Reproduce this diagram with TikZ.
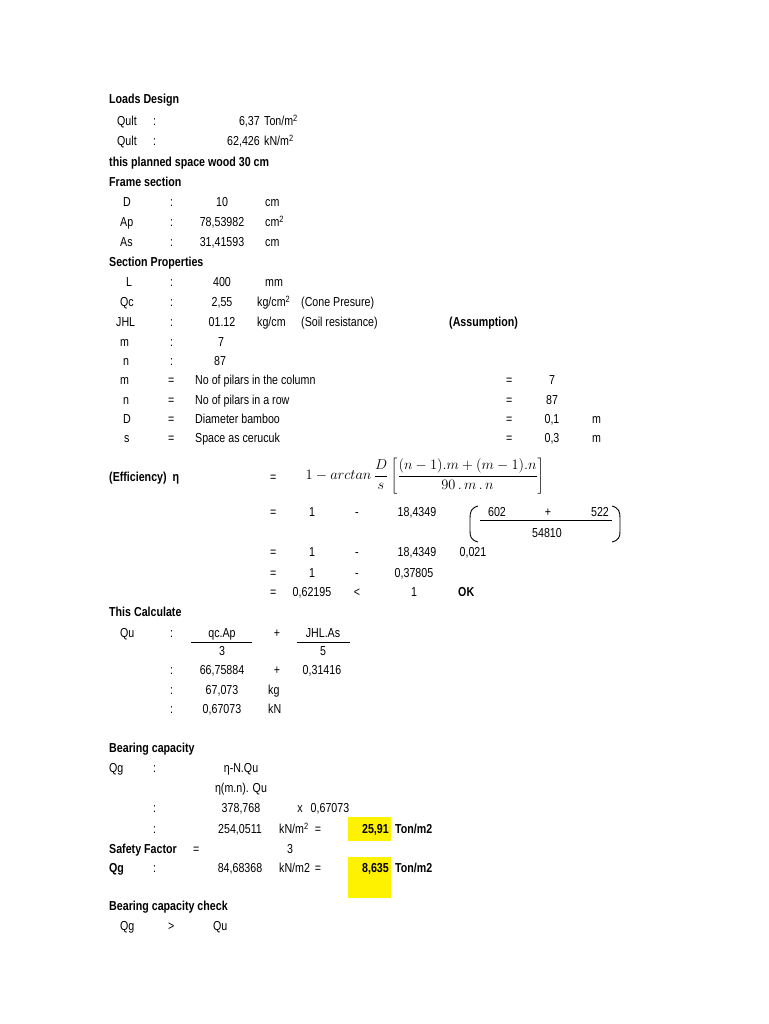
\documentclass[tikz,border=0pt]{standalone}
\usepackage{fontspec}
\setmainfont{Liberation Sans}[FakeStretch=0.82]
\begin{document}
\begin{tikzpicture}[x=1pt,y=-1pt,every node/.style={inner sep=0pt,text height=9pt,text depth=0pt,font=\fontsize{13}{15}\selectfont},
L/.style={anchor=west},C/.style={anchor=center},R/.style={anchor=east},B/.style={anchor=west,font=\fontsize{13}{15}\selectfont\bfseries}]
\useasboundingbox (0,0) rectangle (768,1024);
\fill[white] (0,0) rectangle (768,1024);
\fill[yellow] (348,817) rectangle (391,841);
\fill[yellow] (348,857) rectangle (391,898);
\node[B] (t1) at (109,99) {Loads Design};
\node[L] at (117,121) {Qult}; \node[L] at (153,121) {:}; \node[R] at (260,121) {6,37}; \node[L] at (264,121) {Ton/m\textsuperscript{2}};
\node[L] at (117,141) {Qult}; \node[L] at (153,141) {:}; \node[R] at (260,141) {62,426}; \node[L] at (264,141) {kN/m\textsuperscript{2}};
\node[B] at (109,162) {this planned space wood 30 cm};
\node[B] at (109,182) {Frame section};
\node[L] at (123,202) {D}; \node[L] at (170,202) {:}; \node[C] at (222,202) {10}; \node[L] at (265,202) {cm};
\node[L] at (120,222) {Ap}; \node[L] at (170,222) {:}; \node[C] at (222,222) {78,53982}; \node[L] at (265,222) {cm\textsuperscript{2}};
\node[L] at (120,242) {As}; \node[L] at (170,242) {:}; \node[C] at (222,242) {31,41593}; \node[L] at (265,242) {cm};
\node[B] at (109,262) {Section Properties};
\node[L] at (126,282) {L}; \node[L] at (170,282) {:}; \node[C] at (222,282) {400}; \node[L] at (265,282) {mm};
\node[L] at (120,302) {Qc}; \node[L] at (170,302) {:}; \node[C] at (222,302) {2,55}; \node[L] at (257,302) {kg/cm\textsuperscript{2}}; \node[L] at (301,302) {(Cone Presure)};
\node[L] at (116,322) {JHL}; \node[L] at (170,322) {:}; \node[C] at (222,322) {01.12}; \node[L] at (257,322) {kg/cm}; \node[L] at (301,322) {(Soil resistance)}; \node[B] at (449,322) {(Assumption)};
\node[L] at (120,342) {m}; \node[L] at (170,342) {:}; \node[C] at (221,342) {7};
\node[L] at (123,361) {n}; \node[L] at (170,361) {:}; \node[C] at (220,361) {87};
\node[L] at (120,380) {m}; \node[L] at (168,380) {=}; \node[L] at (195,380) {No of pilars in the column}; \node[L] at (506,380) {=}; \node[C] at (552,380) {7};
\node[L] at (123,400) {n}; \node[L] at (168,400) {=}; \node[L] at (195,400) {No of pilars in a row}; \node[L] at (506,400) {=}; \node[C] at (552,400) {87};
\node[L] at (123,419) {D}; \node[L] at (168,419) {=}; \node[L] at (195,419) {Diameter bamboo}; \node[L] at (506,419) {=}; \node[C] at (552,419) {0,1}; \node[L] at (592,419) {m};
\node[L] at (124,438) {s}; \node[L] at (168,438) {=}; \node[L] at (195,438) {Space as cerucuk}; \node[L] at (506,438) {=}; \node[C] at (552,438) {0,3}; \node[L] at (592,438) {m};
\node[B] at (109,477) {(Efficiency)\ \ η};
\node[L] at (270,477) {=};
\node[C,text height=,text depth=,font=\fontsize{14}{16}\selectfont] at (425,476) {$\displaystyle 1-arctan\,\frac{D}{s}\left[\frac{(n-1).m+(m-1).n}{90\,.\,m\,.\,n}\right]$};
\node[L] at (270,512) {=}; \node[C] at (312,512) {1}; \node[C] at (357,512) {-}; \node[C] at (417,512) {18,4349};
\node[C] at (497,512) {602}; \node[C] at (548,512) {+}; \node[C] at (600,512) {522};
\draw (480,520) -- (612,520);
\node[C] at (547,533) {54810};
\draw[line width=0.9pt] (478,506) .. controls (471,508) and (470,512) .. (470,518) -- (470,531) .. controls (470,537) and (471,540) .. (478,542);
\draw[line width=0.9pt] (612,506) .. controls (619,508) and (620,512) .. (620,518) -- (620,531) .. controls (620,537) and (619,540) .. (612,542);
\node[L] at (270,552) {=}; \node[C] at (312,552) {1}; \node[C] at (357,552) {-}; \node[C] at (417,552) {18,4349}; \node[C] at (473,552) {0,021};
\node[L] at (270,573) {=}; \node[C] at (312,573) {1}; \node[C] at (357,573) {-}; \node[C] at (414,573) {0,37805};
\node[L] at (270,592) {=}; \node[C] at (312,592) {0,62195}; \node[C] at (357,592) {<}; \node[C] at (414,592) {1}; \node[B] at (458,592) {OK};
\node[B] at (109,612) {This Calculate};
\node[L] at (120,633) {Qu}; \node[L] at (170,633) {:}; \node[C] at (222,633) {qc.Ap}; \node[C] at (277,633) {+}; \node[C] at (323,633) {JHL.As};
\draw (191,642) -- (252,642); \draw (297,642) -- (350,642);
\node[C] at (222,651) {3}; \node[C] at (323,651) {5};
\node[L] at (170,670) {:}; \node[C] at (222,670) {66,75884}; \node[C] at (277,670) {+}; \node[C] at (322,670) {0,31416};
\node[L] at (170,690) {:}; \node[C] at (222,690) {67,073}; \node[L] at (268,690) {kg};
\node[L] at (170,709) {:}; \node[C] at (222,709) {0,67073}; \node[L] at (268,709) {kN};
\node[B] at (109,748) {Bearing capacity};
\node[L] at (109,768) {Qg}; \node[L] at (153,768) {:}; \node[C] at (241,768) {η-N.Qu};
\node[C] at (241,788) {η(m.n). Qu};
\node[L] at (153,808) {:}; \node[C] at (241,808) {378,768}; \node[C] at (300,808) {x}; \node[C] at (330,808) {0,67073};
\node[L] at (153,829) {:}; \node[C] at (240,829) {254,0511}; \node[L] at (279,829) {kN/m\textsuperscript{2}}; \node[C] at (318,829) {=};
\node[anchor=east,font=\fontsize{13}{15}\selectfont\bfseries] at (389,829) {25,91}; \node[B] at (395,829) {Ton/m2};
\node[B] at (109,849) {Safety Factor}; \node[L] at (193,849) {=}; \node[C] at (290,849) {3};
\node[B] at (109,868) {Qg}; \node[L] at (153,868) {:}; \node[C] at (240,868) {84,68368}; \node[L] at (279,868) {kN/m2}; \node[C] at (318,868) {=};
\node[anchor=east,font=\fontsize{13}{15}\selectfont\bfseries] at (389,868) {8,635}; \node[B] at (395,868) {Ton/m2};
\node[B] at (109,906) {Bearing capacity check};
\node[L] at (120,926) {Qg}; \node[L] at (168,926) {>}; \node[L] at (213,926) {Qu};
\end{tikzpicture}
\end{document}
